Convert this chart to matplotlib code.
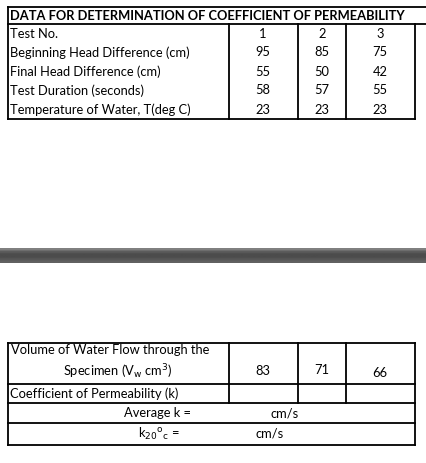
import numpy as np
import matplotlib.pyplot as plt

plt.rcParams['font.family'] = ['Lato', 'DejaVu Sans']

title = "DATA FOR DETERMINATION OF COEFFICIENT OF PERMEABILITY"
row_labels = ["Test No.", "Beginning Head Difference (cm)", "Final Head Difference (cm)",
              "Test Duration (seconds)", "Temperature of Water, T(deg C)"]
test_no = [1, 2, 3]
begin_head = [95, 85, 75]
final_head = [55, 50, 42]
duration = [58, 57, 55]
temperature = [23, 23, 23]
volume = [83, 71, 66]

FS = 9.3
fig = plt.figure(figsize=(4.27, 4.63), dpi=100)
ax = fig.add_axes([0, 0, 1, 1])
ax.set_xlim(0, 427)
ax.set_ylim(463, 0)
ax.axis('off')

def line(x0, x1, y0, y1, lw=1.3):
    ax.plot([x0, x1], [y0, y1], color='black', lw=lw, solid_capstyle='projecting')

# top table
cols = [8, 229, 298, 346, 415]
centers = [263, 322, 380]
rows = [24, 43, 62, 81, 100, 119]
line(8, 427, 7, 7)
line(8, 427, 24, 24)
line(8, 8, 7, 119)
line(8, 415, 119, 119)
for x in cols[1:]:
    line(x, x, 24, 119)
ax.text(10, 15.5, title, fontsize=FS, fontweight='bold', va='center')
values = [test_no, begin_head, final_head, duration, temperature]
for i, (lab, vals) in enumerate(zip(row_labels, values)):
    yc = (rows[i] + rows[i + 1]) / 2
    ax.text(10, yc, lab, fontsize=FS, va='center')
    for c, v in zip(centers, vals):
        ax.text(c, yc, str(v), fontsize=FS, va='center', ha='center')

# gray bar
grad = np.array([0.5, 0.36, 0.3, 0.3, 0.34, 0.38])[:, None]
ax.imshow(grad, cmap='gray', vmin=0, vmax=1, extent=[0, 427, 263, 248], aspect='auto', zorder=0)

# bottom table
b = [343, 384, 403, 423, 445]
for y in b:
    line(8, 415, y, y)
line(8, 8, 343, 445)
line(415, 415, 343, 445)
for x in cols[1:4]:
    line(x, x, 343, 403)
ax.text(11, 350, "Volume of Water Flow through the", fontsize=FS, va='center')
ax.text(118, 372, r"Specimen (V$_{\rm w}$ cm$^{3}$)", fontsize=FS, va='center', ha='center')
for c, v, dy in zip(centers, volume, [371, 370, 373]):
    ax.text(c, dy, str(v), fontsize=FS, va='center', ha='center')
ax.text(10, 394, "Coefficient of Permeability (k)", fontsize=FS, va='center')
ax.text(158, 413, "Average k =", fontsize=FS, va='center', ha='center')
ax.text(285, 413, "cm/s", fontsize=FS, va='center', ha='center')
ax.text(159, 434, r"k$_{20}$$^{\rm o}$$_{\rm c}$ =", fontsize=FS, va='center', ha='center')
ax.text(270, 434, "cm/s", fontsize=FS, va='center', ha='center')

fig.savefig('out.png', dpi=100)
